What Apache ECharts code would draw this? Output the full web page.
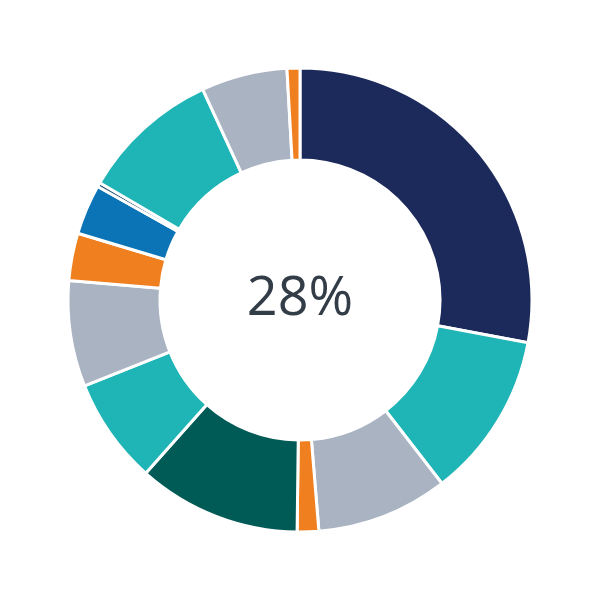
<!DOCTYPE html>
<html>
<head>
<meta charset="utf-8">
<script src="https://cdn.jsdelivr.net/npm/echarts@6/dist/echarts.min.js"></script>
<style>
  html, body { margin: 0; padding: 0; background: #fff; }
  #chart { width: 600px; height: 600px; }
</style>
</head>
<body>
<div id="chart"></div>
<script>
// slice values, clockwise from 12 o'clock (percent)
const values = [28, 11.6, 9.2, 1.5, 11.4, 7.4, 7.4, 3.3, 3.5, 0.3, 9.7, 6, 0.9];
const colors = ['#1b2a5b', '#1fb5b6', '#a9b3c2', '#f07f1f', '#005a56', '#1fb5b6',
  '#a9b3c2', '#f07f1f', '#0a74b6', '#2d5872', '#1fb5b6', '#a9b3c2', '#f07f1f'];
const centerLabel = '28%';

const myChart = echarts.init(document.getElementById('chart'));
myChart.setOption({
  animation: false,
  title: {
    text: centerLabel,
    left: 'center',
    top: 'middle',
    textStyle: {
      fontFamily: 'Open Sans',
      fontSize: 54,
      fontWeight: 'normal',
      color: '#333d48',
    },
  },
  series: [{
    type: 'pie',
    center: [300, 300],
    radius: [140, 232],
    startAngle: 90,
    clockwise: true,
    label: { show: false },
    labelLine: { show: false },
    itemStyle: {
      borderColor: '#fff',
      borderWidth: 3,
    },
    data: values.map((v, i) => ({ value: v, itemStyle: { color: colors[i] } })),
  }],
});
</script>
</body>
</html>
